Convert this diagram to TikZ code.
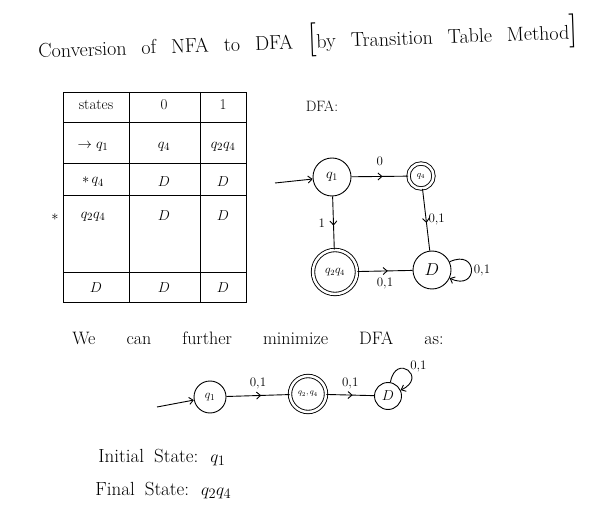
\documentclass[tikz,border=0pt]{standalone}
\usetikzlibrary{decorations.markings,arrows.meta}
\begin{document}
\begin{tikzpicture}[x=1pt,y=1pt, line width=0.9pt,
  >={Straight Barb[length=4pt,width=7pt]},
  stnode/.style={draw,circle,inner sep=0pt,minimum size=#1},
  accnode/.style={draw,circle,double,double distance=2.5pt,inner sep=0pt,minimum size=#1},
  midarrow/.style={postaction={decorate},decoration={markings,mark=at position 0.55 with {\arrow{>}}}},
  lbl/.style={font=\fontsize{13}{15}\selectfont, inner sep=2pt},
  cell/.style={font=\fontsize{15}{17}\selectfont, inner sep=1pt},
  txt/.style={font=\fontsize{18}{20}\selectfont, inner sep=0pt}
]
\useasboundingbox (0,0) rectangle (594,-518);

% title
\node[rotate=2, font=\fontsize{20}{22}\selectfont, inner sep=0pt] (title) at (308,-40)
  {{\spaceskip=15pt Conversion of NFA to DFA {\fontsize{34}{34}\selectfont[}by Transition Table Method{\fontsize{34}{34}\selectfont]}}};

% table
\draw (63,-92) rectangle (246,-302);
\draw (129,-92) -- (129,-302);
\draw (200,-92) -- (200,-302);
\draw (63,-122) -- (246,-122);
\draw (63,-163) -- (246,-163);
\draw (63,-195) -- (246,-195);
\draw (63,-272) -- (246,-272);

\node[cell] (h0) at (96,-105) {states};
\node[cell] (h1) at (164,-105) {0};
\node[cell] (h2) at (223,-105) {1};
\node[cell] (r1c0) at (93,-147) {$\rightarrow q_1$};
\node[cell] (r1c1) at (164,-147) {$q_4$};
\node[cell] (r1c2) at (223,-147) {$q_2q_4$};
\node[cell] (r2c0) at (93,-182) {$*\,q_4$};
\node[cell] (r2c1) at (164,-182) {$D$};
\node[cell] (r2c2) at (223,-182) {$D$};
\node[cell] (star3) at (55,-217) {$*$};
\node[cell] (r3c0) at (93,-217) {$q_2q_4$};
\node[cell] (r3c1) at (164,-216) {$D$};
\node[cell] (r3c2) at (223,-216) {$D$};
\node[cell] (r4c0) at (96,-288) {$D$};
\node[cell] (r4c1) at (164,-288) {$D$};
\node[cell] (r4c2) at (223,-288) {$D$};

% DFA
\node[txt, font=\fontsize{15}{17}\selectfont] (dfa) at (322,-106) {DFA:};
\node[stnode=38, font=\fontsize{14}{16}\selectfont] (A) at (332,-177) {$q_1$};
\node[accnode=25, font=\fontsize{9}{11}\selectfont] (B) at (421,-176) {$q_4$};
\node[accnode=44, font=\fontsize{12}{14}\selectfont] (C) at (335,-272) {$q_2q_4$};
\node[stnode=38, font=\fontsize{16}{18}\selectfont] (Dd) at (432,-270) {$D$};
\coordinate (Ain) at (275,-183);
\draw[->] (Ain) -- (A);
\draw[midarrow] (A) -- node[above, lbl, yshift=8pt] {0} (B);
\draw[midarrow] (A) -- node[left, lbl, xshift=-6pt] {1} (C);
\draw[midarrow] (B) -- node[right, lbl] {0,1} (Dd);
\draw[midarrow] (C) -- node[below, lbl, yshift=-4pt] {0,1} (Dd);
\draw[->] (Dd) to[out=25,in=-25,looseness=5] node[right, lbl] {0,1} (Dd);

% minimize
\node[txt] (minz) at (258,-338) {{\spaceskip=31pt We can further minimize DFA as:}};
\node[stnode=32, font=\fontsize{13}{15}\selectfont] (m1) at (210,-397) {$q_1$};
\node[accnode=36, font=\fontsize{8}{10}\selectfont] (m2) at (308,-394) {$q_2,q_4$};
\node[stnode=27, font=\fontsize{14}{16}\selectfont] (m3) at (388,-396) {$D$};
\coordinate (m0) at (157,-407);
\draw[->] (m0) -- (m1);
\draw[midarrow] (m1) -- node[above, lbl, yshift=4pt] {0,1} (m2);
\draw[midarrow] (m2) -- node[above, lbl, yshift=4pt] {0,1} (m3);
\draw[->] (m3) to[out=80,in=25,looseness=6] node[right, lbl, yshift=4pt] {0,1} (m3);

% bottom text
\node[txt, font=\fontsize{19}{21}\selectfont, anchor=base west] (init) at (98,-462) {{\spaceskip=10pt Initial State: $q_1$}};
\node[txt, font=\fontsize{19}{21}\selectfont, anchor=base west] (fin) at (95,-495) {{\spaceskip=10pt Final State: $q_2q_4$}};
\end{tikzpicture}
\end{document}
